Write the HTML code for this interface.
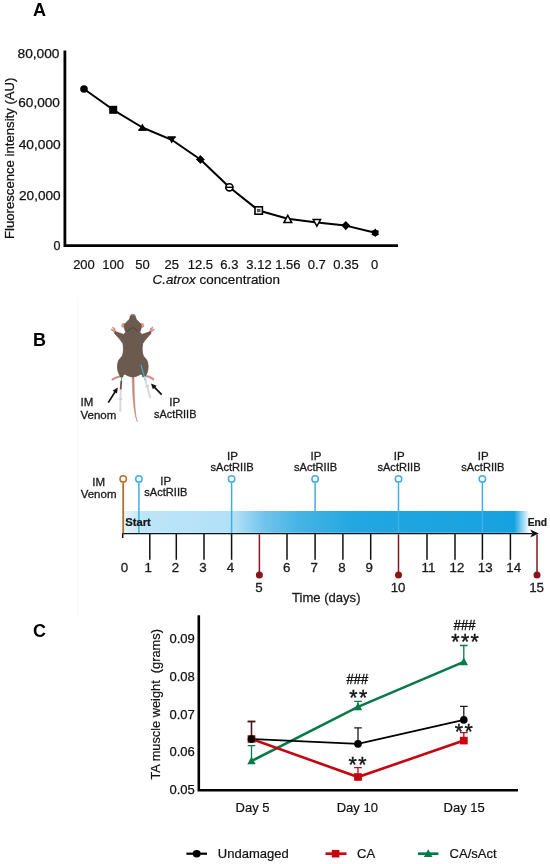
<!DOCTYPE html>
<html lang="en">
<head>
<meta charset="utf-8">
<title>Figure</title>
<style>
  html, body { margin: 0; padding: 0; background: #ffffff; }
  body { width: 550px; height: 864px; overflow: hidden; }
  svg { display: block; }
  text { font-family: "Liberation Sans", sans-serif; fill: #1a1a1a; }
  .pl { font-weight: bold; font-size: 18px; fill: #000; }
  .ax { font-size: 12.5px; fill: #111; stroke:#111; stroke-width:0.25px; }
  .xl { font-size: 13px; fill: #111; stroke:#111; stroke-width:0.2px; }
  .rb { font-size: 11.5px; fill: #1a1a1a; stroke: #1a1a1a; stroke-width: 0.3px; }
  .tk { font-size: 13.3px; fill: #1a1a1a; stroke:#1a1a1a; stroke-width:0.3px; }
</style>
</head>
<body>
<svg width="550" height="864" viewBox="0 0 550 864">
  <defs>
    <linearGradient id="bar" x1="0" y1="0" x2="1" y2="0">
      <stop offset="0" stop-color="#e8f6fd"/>
      <stop offset="0.05" stop-color="#bde5f9"/>
      <stop offset="0.27" stop-color="#b2e0f7"/>
      <stop offset="0.34" stop-color="#72c4eb"/>
      <stop offset="0.42" stop-color="#48b4e5"/>
      <stop offset="0.56" stop-color="#22a7e1"/>
      <stop offset="0.945" stop-color="#16a2e0"/>
      <stop offset="0.982" stop-color="#ffffff"/>
      <stop offset="1" stop-color="#ffffff"/>
    </linearGradient>
  </defs>
  <rect x="0" y="0" width="550" height="864" fill="#ffffff"/>

  <!-- ================= PANEL A ================= -->
  <g id="panelA">
    <text class="pl" x="33.1" y="16.4">A</text>
    <!-- axes -->
    <path d="M64.9 50.5 V245.7 H398" fill="none" stroke="#000" stroke-width="2.8"/>
    <!-- y labels -->
    <text class="ax" x="17.5" y="58.4" textLength="42" lengthAdjust="spacingAndGlyphs">80,000</text>
    <text class="ax" x="18.3" y="106.6" textLength="41.6" lengthAdjust="spacingAndGlyphs">60,000</text>
    <text class="ax" x="18.7" y="148.9" textLength="42" lengthAdjust="spacingAndGlyphs">40,000</text>
    <text class="ax" x="19" y="199.5" textLength="41.6" lengthAdjust="spacingAndGlyphs">20,000</text>
    <text class="ax" x="60.5" y="250" text-anchor="end">0</text>
    <text class="ax" transform="translate(14.3 239) rotate(-90)" textLength="161.5" lengthAdjust="spacingAndGlyphs" style="font-size:13px">Fluorescence intensity (AU)</text>
    <g id="mk">
      <polyline points="84,89 113.2,109.8 142.4,127.5 171.7,139.8 200.4,159.5 229.4,187.3 258.7,210.5 287.8,218.8 316.9,222.6 345.8,225.6 375.2,232.8" fill="none" stroke="#000" stroke-width="2" stroke-linejoin="round"/>
      <circle cx="84" cy="89" r="3.8" fill="#000"/>
      <rect x="109.2" y="105.8" width="8" height="8" fill="#000"/>
      <path d="M142.4 123.6 L146.6 130.7 H138.2 Z" fill="#000"/><path d="M138.2 130.1 H146.6" stroke="#000" stroke-width="1.3"/>
      <path d="M171.7 143.4 L175.8 136.6 H167.6 Z" fill="#000"/><path d="M167.6 137.1 H175.8" stroke="#000" stroke-width="1.3"/>
      <path d="M200.4 155.0 L202.5 157.4 L204.9 159.5 L202.5 161.6 L200.4 164.0 L198.3 161.6 L195.9 159.5 L198.3 157.4 Z" fill="#000"/><circle cx="200.4" cy="159.5" r="2.9" fill="#000"/>
      <circle cx="229.4" cy="187.3" r="3.6" fill="#fff" stroke="#000" stroke-width="1.6"/><path d="M225.8 187.3 H233.0" stroke="#000" stroke-width="1.5"/>
      <rect x="255.0" y="206.8" width="7.4" height="7.4" fill="#fff" stroke="#000" stroke-width="1.6"/><rect x="256.9" y="208.9" width="3.6" height="3.2" fill="#555"/>
      <path d="M287.8 215.3 L291.7 222.6 H283.9 Z" fill="#fff" stroke="#000" stroke-width="1.5"/>
      <path d="M316.9 226.2 L320.6 219.5 H313.2 Z" fill="#fff" stroke="#000" stroke-width="1.5"/>
      <path d="M345.8 221.0 L350.2 225.6 L345.8 230.2 L341.4 225.6 Z" fill="#000"/>
      <path d="M375.2 228.5 L376.7 230.2 L378.9 230.7 L378.2 232.8 L378.9 235.0 L376.7 235.4 L375.2 237.1 L373.7 235.4 L371.5 235.0 L372.2 232.8 L371.5 230.7 L373.7 230.2 Z" fill="#000"/><circle cx="375.2" cy="232.8" r="3.1" fill="#000"/>
    </g>
    <!-- x labels -->
    <text class="xl" x="84" y="268.5" text-anchor="middle">200</text>
    <text class="xl" x="113.2" y="268.5" text-anchor="middle">100</text>
    <text class="xl" x="142.4" y="268.5" text-anchor="middle">50</text>
    <text class="xl" x="171.7" y="268.5" text-anchor="middle">25</text>
    <text class="xl" x="200.4" y="268.5" text-anchor="middle">12.5</text>
    <text class="xl" x="229.4" y="268.5" text-anchor="middle">6.3</text>
    <text class="xl" x="259" y="268.5" text-anchor="middle">3.12</text>
    <text class="xl" x="287.8" y="268.5" text-anchor="middle">1.56</text>
    <text class="xl" x="316.7" y="268.5" text-anchor="middle">0.7</text>
    <text class="xl" x="346" y="268.5" text-anchor="middle">0.35</text>
    <text class="xl" x="374.5" y="268.5" text-anchor="middle">0</text>
    <text class="xl" x="152.5" y="283.5" textLength="127.5" lengthAdjust="spacingAndGlyphs"><tspan font-style="italic">C.atrox</tspan> concentration</text>
  </g>

  <!-- ================= PANEL B ================= -->
  <g id="panelB">
    <path d="M77.8 298 V616" stroke="#fbfbfb" stroke-width="2"/>
    <text class="pl" x="33.1" y="346.4">B</text>
    <!-- mouse placeholder: filled in below -->
    <g id="mouse">
      <path d="M132.0 375 C132.4 385 132.6 393 133.2 400 C133.8 408 135 416 137.2 421.6 C135.4 416 135.0 408 134.6 400 C134.2 393 134.2 385 134.0 375 Z" fill="#c48a80" stroke="#c48a80" stroke-width="0.6" stroke-linejoin="round"/>
      <path d="M121.8 376.6 C118.8 376.0 116.2 377.2 112.6 379.4" fill="none" stroke="#d58d86" stroke-width="2.1" stroke-linecap="round"/>
      <path d="M143.8 376.2 C146.8 375.6 149.8 376.8 153.2 379.2" fill="none" stroke="#d58d86" stroke-width="2.1" stroke-linecap="round"/>
      <circle cx="123.6" cy="325.4" r="2.3" fill="#dc918b"/><circle cx="141.8" cy="325.4" r="2.3" fill="#dc918b"/>
      <path d="M115.6 332.8 L113.0 327.4 M115.2 332.4 L111.4 329.4 M115.4 332.6 L114.6 328.6" stroke="#dc918b" stroke-width="1.5" stroke-linecap="round" fill="none"/>
      <path d="M149.8 332.8 L152.4 327.4 M150.2 332.4 L154.0 329.4 M150.0 332.6 L150.8 328.6" stroke="#dc918b" stroke-width="1.5" stroke-linecap="round" fill="none"/>
      <path d="M132.8 314.3 C134.8 314.3 135.5 316.0 135.7 317.7 C136.0 319.5 137.3 320.5 138.5 321.6 C139.9 322.8 141.2 324.0 141.2 326.6 C141.2 329.0 140.6 330.8 139.6 332.0 L142.0 334.4 L150.4 331.6 L151.0 333.6 C148.0 336.4 145.0 340.0 142.7 343.6 C142.0 347.0 141.8 351.0 143.0 355.0 C143.8 357.6 146.6 358.6 147.4 361.6 C148.4 365.0 148.4 369.0 147.2 372.4 C146.6 374.2 145.6 375.8 144.8 377.0 L142.8 377.0 C142.6 375.2 141.8 374.0 140.8 374.2 C138.6 375.2 135.8 376.9 132.8 376.9 C129.8 376.9 127.0 375.2 124.8 374.2 C123.8 374.0 123.0 375.2 122.8 377.0 L120.8 377.0 C120.0 375.8 119.0 374.2 118.4 372.4 C117.2 369.0 117.2 365.0 118.2 361.6 C119.0 358.6 121.8 357.6 122.6 355.0 C123.8 351.0 123.6 347.0 122.9 343.6 C120.6 340.0 117.6 336.4 114.6 333.6 L115.2 331.6 L123.6 334.4 L126.0 332.0 C125.0 330.8 124.4 329.0 124.4 326.6 C124.4 324.0 125.7 322.8 127.1 321.6 C128.3 320.5 129.6 319.5 129.9 317.7 C130.1 316.0 130.8 314.3 132.8 314.3 Z" fill="#6b5a4f" stroke="#5b483d" stroke-width="0.7" stroke-linejoin="round"/>
      <ellipse cx="132.7" cy="314.7" rx="1.1" ry="0.8" fill="#c98f88"/>
      <path d="M131.2 315.4 L128.2 314.2 M134.2 315.4 L137.2 314.2" stroke="#d6d6d6" stroke-width="0.4"/>
      <path d="M127.4 331.2 C129.4 329.6 131.2 328.4 132.7 327.6 C134.2 328.4 136.0 329.6 138.0 331.2" fill="none" stroke="#54423a" stroke-width="1.1" stroke-linecap="round" opacity="0.75"/>
      <path d="M121.6 377.4 L121.4 380.8" stroke="#2bb8a8" stroke-width="1.1"/>
      <path d="M121.3 380.8 L120.7 389.6" stroke="#6b5347" stroke-width="1.8"/>
      <path d="M120.7 389.6 L120.2 411" stroke="#d8d8d8" stroke-width="1.9"/>
      <path d="M118.4 399 H122.4" stroke="#c8c8c8" stroke-width="1.2"/>
      <path d="M119.2 411 H121.4" stroke="#d2d2d2" stroke-width="0.9"/>
      <path d="M141 365 L144.4 376.6" stroke="#3fb7c9" stroke-width="1.1"/>
      <path d="M144.4 376.6 L150.2 397.4" stroke="#d8d8d8" stroke-width="1.9"/>
      <path d="M144.4 376.6 L145.6 381" stroke="#a9dcea" stroke-width="1.9"/>
      <path d="M145.2 386.8 L149.2 385.6" stroke="#c8c8c8" stroke-width="1.2"/>
      <path d="M149 397.8 L151.2 397.2" stroke="#d2d2d2" stroke-width="0.9"/>
      <path d="M108.3 402.6 L115.4 391.3" stroke="#111" stroke-width="1.7"/><path d="M117.8 387.4 L117.0 393.5 L112.6 390.8 Z" fill="#111"/>
      <path d="M161.7 394.6 L154.1 386.8" stroke="#111" stroke-width="1.7"/><path d="M150.9 383.5 L156.7 385.7 L152.9 389.3 Z" fill="#111"/>
    </g>
    <text class="rb" x="80.5" y="406">IM</text>
    <text class="rb" x="80.5" y="418.8">Venom</text>
    <text class="rb" x="174.8" y="406" text-anchor="middle">IP</text>
    <text class="rb" x="154" y="417.5" textLength="42.4" lengthAdjust="spacingAndGlyphs">sActRIIB</text>

    <g id="timeline">
      <rect x="123" y="511" width="414" height="21.8" fill="url(#bar)"/>
      <path d="M149.8 533.6 V559.8" stroke="#111" stroke-width="1.5"/>
      <path d="M176.3 533.6 V559.8" stroke="#111" stroke-width="1.5"/>
      <path d="M204 533.6 V559.8" stroke="#111" stroke-width="1.5"/>
      <path d="M231.6 533.6 V559.8" stroke="#111" stroke-width="1.5"/>
      <path d="M287 533.6 V559.8" stroke="#111" stroke-width="1.5"/>
      <path d="M315.1 533.6 V559.8" stroke="#111" stroke-width="1.5"/>
      <path d="M342.9 533.6 V559.8" stroke="#111" stroke-width="1.5"/>
      <path d="M370.7 533.6 V559.8" stroke="#111" stroke-width="1.5"/>
      <path d="M427 533.6 V559.8" stroke="#111" stroke-width="1.5"/>
      <path d="M455 533.6 V559.8" stroke="#111" stroke-width="1.5"/>
      <path d="M482.4 533.6 V559.8" stroke="#111" stroke-width="1.5"/>
      <path d="M510.4 533.6 V559.8" stroke="#111" stroke-width="1.5"/>
      <path d="M122 533.6 H532" stroke="#111" stroke-width="1.4"/>
      <path d="M538.8 533.6 L530.2 529.6 L532.4 533.6 L530.2 537.6 Z" fill="#111"/>
      <path d="M122.7 533 V538" stroke="#111" stroke-width="1.5"/>
      <path d="M259.4 534.4 V575" stroke="#87161a" stroke-width="1.5"/><circle cx="259.4" cy="575" r="3.5" fill="#87161a"/>
      <path d="M398.5 534.4 V575" stroke="#87161a" stroke-width="1.5"/><circle cx="398.5" cy="575" r="3.5" fill="#87161a"/>
      <path d="M537 534.4 V575" stroke="#87161a" stroke-width="1.5"/><circle cx="537" cy="575" r="3.5" fill="#87161a"/>
      <path d="M231.6 482.4 V532.9" stroke="#41aee3" stroke-width="1.5"/><circle cx="231.6" cy="478.9" r="3.2" fill="#fff" stroke="#41aee3" stroke-width="1.5"/>
      <text class="rb" x="232.4" y="459.6" text-anchor="middle">IP</text><text class="rb" x="210.5" y="471" textLength="43.2" lengthAdjust="spacingAndGlyphs">sActRIIB</text>
      <path d="M315.1 482.4 V532.9" stroke="#41aee3" stroke-width="1.5"/><circle cx="315.1" cy="478.9" r="3.2" fill="#fff" stroke="#41aee3" stroke-width="1.5"/>
      <text class="rb" x="315.9" y="459.6" text-anchor="middle">IP</text><text class="rb" x="294.0" y="471" textLength="43.2" lengthAdjust="spacingAndGlyphs">sActRIIB</text>
      <path d="M398.5 482.4 V532.9" stroke="#41aee3" stroke-width="1.5"/><circle cx="398.5" cy="478.9" r="3.2" fill="#fff" stroke="#41aee3" stroke-width="1.5"/>
      <text class="rb" x="399.3" y="459.6" text-anchor="middle">IP</text><text class="rb" x="377.4" y="471" textLength="43.2" lengthAdjust="spacingAndGlyphs">sActRIIB</text>
      <path d="M482.4 482.4 V532.9" stroke="#41aee3" stroke-width="1.5"/><circle cx="482.4" cy="478.9" r="3.2" fill="#fff" stroke="#41aee3" stroke-width="1.5"/>
      <text class="rb" x="483.2" y="459.6" text-anchor="middle">IP</text><text class="rb" x="461.3" y="471" textLength="43.2" lengthAdjust="spacingAndGlyphs">sActRIIB</text>
      <path d="M138.9 482.4 V532.9" stroke="#41aee3" stroke-width="1.5"/><circle cx="138.9" cy="478.9" r="3.2" fill="#fff" stroke="#41aee3" stroke-width="1.5"/>
      <path d="M123.2 482.4 V533.4" stroke="#b4712b" stroke-width="1.8"/><circle cx="123.2" cy="478.9" r="3.2" fill="#fff" stroke="#b4712b" stroke-width="1.5"/>
      <text class="rb" x="98.6" y="485.5" text-anchor="middle">IM</text><text class="rb" x="98.6" y="498.2" text-anchor="middle">Venom</text>
      <text class="rb" x="165.7" y="484.8" text-anchor="middle">IP</text><text class="rb" x="144.2" y="495.8" textLength="43.2" lengthAdjust="spacingAndGlyphs">sActRIIB</text>
      <text class="tk" x="124.4" y="571.5" text-anchor="middle">0</text>
      <text class="tk" x="148.3" y="571.5" text-anchor="middle">1</text>
      <text class="tk" x="175.5" y="571.5" text-anchor="middle">2</text>
      <text class="tk" x="202.9" y="571.5" text-anchor="middle">3</text>
      <text class="tk" x="230.5" y="571.5" text-anchor="middle">4</text>
      <text class="tk" x="286.7" y="571.5" text-anchor="middle">6</text>
      <text class="tk" x="314.3" y="571.5" text-anchor="middle">7</text>
      <text class="tk" x="342.0" y="571.5" text-anchor="middle">8</text>
      <text class="tk" x="369.2" y="571.5" text-anchor="middle">9</text>
      <text class="tk" x="428.5" y="571.5" text-anchor="middle">11</text>
      <text class="tk" x="457.0" y="571.5" text-anchor="middle">12</text>
      <text class="tk" x="485.2" y="571.5" text-anchor="middle">13</text>
      <text class="tk" x="513.7" y="571.5" text-anchor="middle">14</text>
      <text class="tk" x="259.0" y="592.4" text-anchor="middle">5</text>
      <text class="tk" x="398.1" y="592.4" text-anchor="middle">10</text>
      <text class="tk" x="536.6" y="592.4" text-anchor="middle">15</text>
      <text x="292" y="602" font-size="13.5" fill="#1a1a1a" stroke="#1a1a1a" stroke-width="0.3" textLength="68.5" lengthAdjust="spacingAndGlyphs">Time (days)</text>
      <text x="125.2" y="525.7" font-size="11.5" font-weight="bold" fill="#000" stroke="#000" stroke-width="0.2" textLength="25.6" lengthAdjust="spacingAndGlyphs">Start</text>
      <text x="527.7" y="525.7" font-size="11.5" font-weight="bold" fill="#000" stroke="#000" stroke-width="0.2" textLength="19.4" lengthAdjust="spacingAndGlyphs">End</text>
    </g>
  </g>

  <!-- ================= PANEL C ================= -->
  <g id="panelC">
    <text class="pl" x="33.1" y="637.1">C</text>
    <g id="pc">
      <path d="M198.8 615.2 V790.2 H518" fill="none" stroke="#000" stroke-width="2.6"/>
      <text class="ax" x="169.4" y="642.8" textLength="25.4" lengthAdjust="spacingAndGlyphs" style="font-size:12.8px">0.09</text>
      <text class="ax" x="169.4" y="680.7" textLength="25.4" lengthAdjust="spacingAndGlyphs" style="font-size:12.8px">0.08</text>
      <text class="ax" x="169.4" y="719" textLength="25.4" lengthAdjust="spacingAndGlyphs" style="font-size:12.8px">0.07</text>
      <text class="ax" x="169.4" y="756.3" textLength="25.4" lengthAdjust="spacingAndGlyphs" style="font-size:12.8px">0.06</text>
      <text class="ax" x="169.4" y="794.3" textLength="25.4" lengthAdjust="spacingAndGlyphs" style="font-size:12.8px">0.05</text>
      <text class="xl" transform="translate(159.6 779.6) rotate(-90)" textLength="150.5" lengthAdjust="spacingAndGlyphs">TA muscle weight&#160;&#160;(grams)</text>
      <path d="M251.5 761 V745.7 M247.7 745.7 H255.3" stroke="#067a4a" stroke-width="1.3" fill="none"/>
      <path d="M251.5 739 V721.5 M247.7 721.5 H255.3" stroke="#4a1516" stroke-width="1.3" fill="none"/>
      <path d="M251.5 739.1 V721.5 M247.7 721.5 H255.3" stroke="#4a1516" stroke-width="1.3" fill="none"/>
      <path d="M358 706.9 V701.3 M354.2 701.3 H361.8" stroke="#067a4a" stroke-width="1.3" fill="none"/>
      <path d="M358 777 V767.7 M354.2 767.7 H361.8" stroke="#c4060f" stroke-width="1.3" fill="none"/>
      <path d="M358 743.9 V727.9 M354.2 727.9 H361.8" stroke="#1a1a1a" stroke-width="1.3" fill="none"/>
      <path d="M463.8 661.9 V645.5 M460.0 645.5 H467.6" stroke="#067a4a" stroke-width="1.3" fill="none"/>
      <path d="M463.8 740.6 V732.6 M460.0 732.6 H467.6" stroke="#c4060f" stroke-width="1.3" fill="none"/>
      <path d="M463.8 719.9 V706.3 M460.0 706.3 H467.6" stroke="#1a1a1a" stroke-width="1.3" fill="none"/>
      <polyline points="251.5,761 358,706.9 463.8,661.9" fill="none" stroke="#067a4a" stroke-width="2.5"/>
      <polyline points="251.5,739 358,777 463.8,740.6" fill="none" stroke="#c4060f" stroke-width="2.6"/>
      <polyline points="251.5,739.1 358,743.9 463.8,719.9" fill="none" stroke="#000" stroke-width="1.8"/>
      <path d="M251.5 756.6 L255.7 764.3 H247.3 Z" fill="#067a4a"/>
      <rect x="247.6" y="735.2" width="7.8" height="7.6" fill="#c4060f"/>
      <circle cx="251.5" cy="739.1" r="3.8" fill="#000"/>
      <path d="M358 702.5 L362.2 710.2 H353.8 Z" fill="#067a4a"/>
      <rect x="354.1" y="773.2" width="7.8" height="7.6" fill="#c4060f"/>
      <circle cx="358" cy="743.9" r="3.8" fill="#000"/>
      <path d="M463.8 657.5 L468.0 665.2 H459.6 Z" fill="#067a4a"/>
      <rect x="459.9" y="736.8" width="7.8" height="7.6" fill="#c4060f"/>
      <circle cx="463.8" cy="719.9" r="3.8" fill="#000"/>
      <text x="349.2 358.9" y="704.7" font-size="21.3" fill="#000" stroke="#000" stroke-width="0.35">**</text>
      <text x="348.5 358.2" y="771.8" font-size="21.3" fill="#000" stroke="#000" stroke-width="0.35">**</text>
      <text x="454.8 464.5" y="739.4" font-size="21.3" fill="#000" stroke="#000" stroke-width="0.35">**</text>
      <text x="451.3 461.0 470.6" y="649.2" font-size="21.3" fill="#000" stroke="#000" stroke-width="0.35">***</text>
      <text x="346.5" y="683.5" font-size="14.5" fill="#111" stroke="#111" stroke-width="0.4" textLength="21.6" lengthAdjust="spacingAndGlyphs">###</text>
      <text x="453.8" y="630" font-size="14.5" fill="#111" stroke="#111" stroke-width="0.4" textLength="21.6" lengthAdjust="spacingAndGlyphs">###</text>
      <text class="xl" x="252.5" y="811.8" text-anchor="middle">Day 5</text>
      <text class="xl" x="357.3" y="811.8" text-anchor="middle">Day 10</text>
      <text class="xl" x="464.2" y="811.8" text-anchor="middle">Day 15</text>
      <path d="M186.4 853.7 H207" stroke="#000" stroke-width="2.2"/><ellipse cx="196.7" cy="853.7" rx="4" ry="3.7" fill="#000"/>
      <text class="xl" x="217.8" y="857.8">Undamaged</text>
      <path d="M325.5 853.7 H346.5" stroke="#c4060f" stroke-width="2.7"/><rect x="331.8" y="849.9" width="7.6" height="7.6" fill="#c4060f"/>
      <text class="xl" x="357" y="858">CA</text>
      <path d="M418 853.7 H438.4" stroke="#067a4a" stroke-width="2.7"/><path d="M428.2 849.3 L432.5 857.0 H423.9 Z" fill="#067a4a"/>
      <text class="xl" x="449.6" y="858">CA/sAct</text>
    </g>
  </g>
</svg>
</body>
</html>
